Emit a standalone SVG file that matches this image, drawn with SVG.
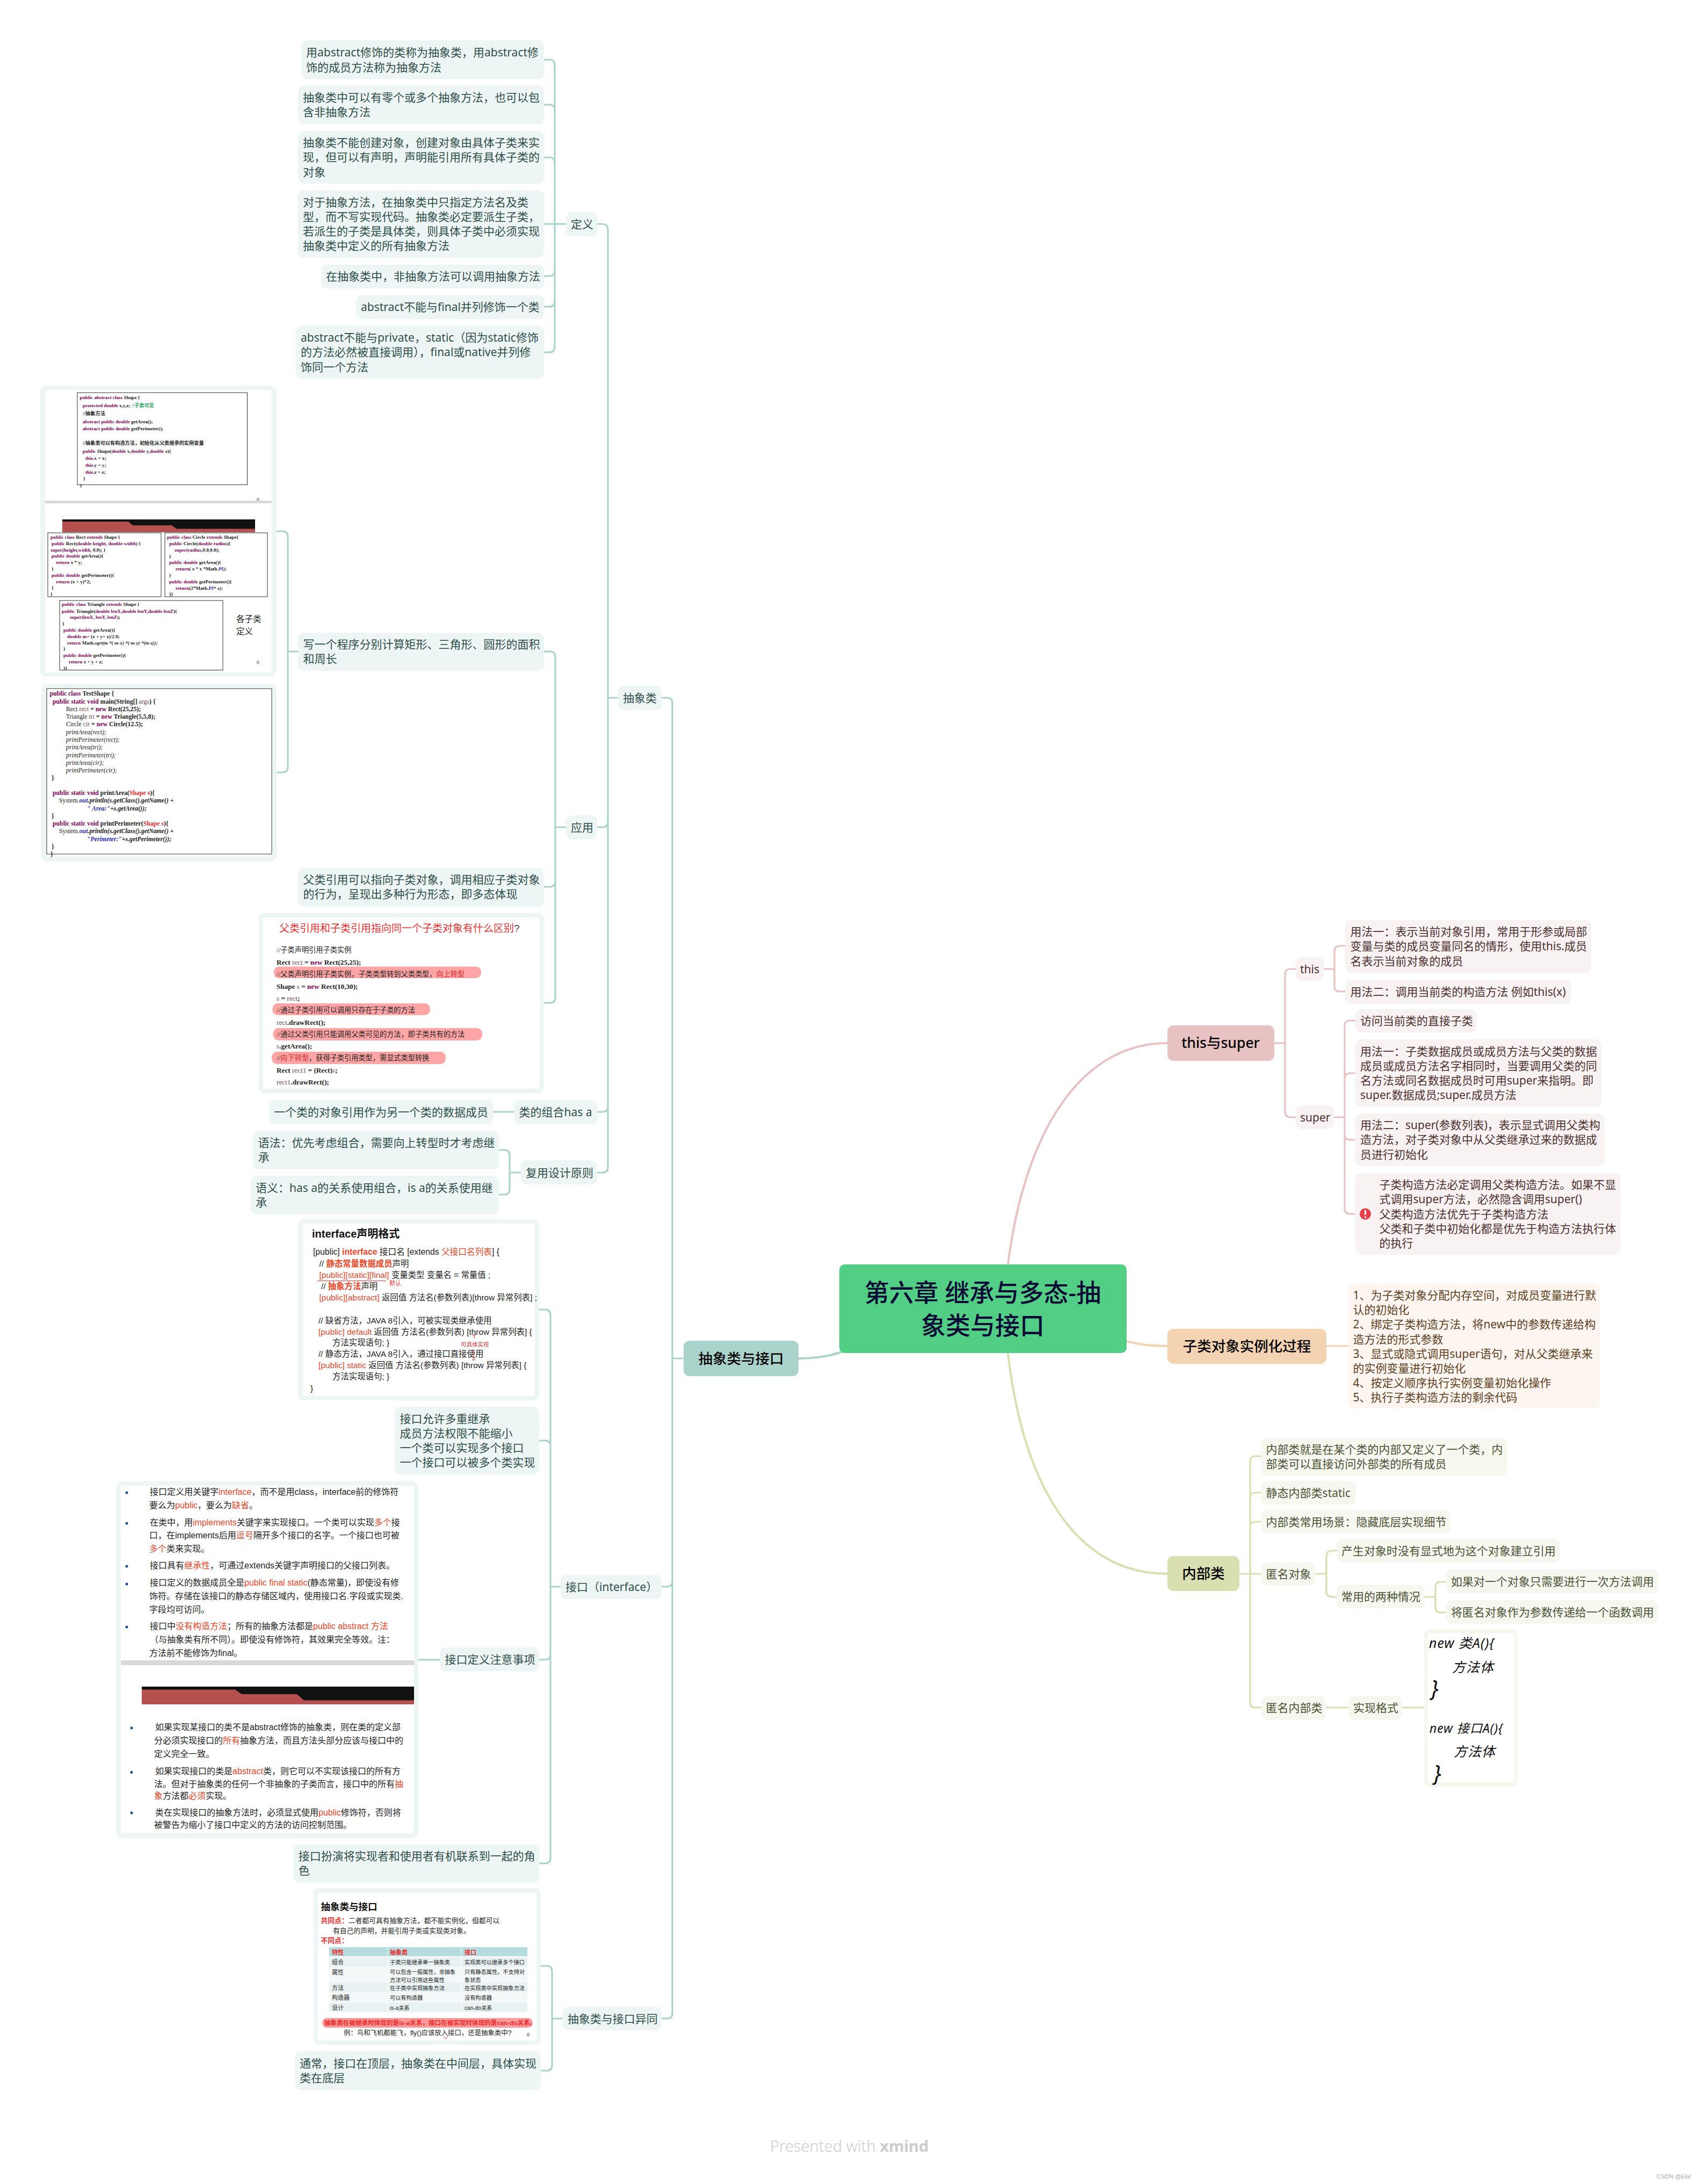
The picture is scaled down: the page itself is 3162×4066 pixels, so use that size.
<svg xmlns="http://www.w3.org/2000/svg" width="3162" height="4066" viewBox="0 0 3162 4066">
<style>
text{font-family:"Noto Sans","Noto Sans CJK SC",sans-serif;font-size:21px}
rect.tn{fill:#edf6f4}rect.pn{fill:#f8f2f2}rect.on{fill:#fdf6f0}rect.gn{fill:#f6f8f0}
.tt{fill:#2f4d49}.pt{fill:#4d3030}.ot{fill:#5e4023}.gt{fill:#4c5236}
.main{font-size:26.5px;font-weight:500;fill:#000}
.con path{fill:none;stroke-width:3.2}
.tc path{stroke:#aad4cb}.pc path{stroke:#e8c2c2}.oc path{stroke:#f4d3b2}.gc path{stroke:#d9dfb0}
.b{stroke-width:4!important}
text.c{font-family:"Liberation Serif","Noto Sans CJK SC",serif;font-weight:bold;font-size:9.2px;fill:#222}
text.c1{font-size:11.8px}
text.c2{font-size:13.2px}
.k{fill:#7f0055}.v{fill:#6d4a4a;font-weight:normal}.i{font-style:italic}.bl{fill:#2a2ac0}.r{fill:#ee2a2a}.g{fill:#1fa65a}.gg{fill:#3f7f5f}
text.s{font-family:"Liberation Sans","Noto Sans CJK SC",sans-serif;font-size:15.4px;fill:#222}
text.s2{font-size:16px}
text.s3{font-size:12.8px}
text.s4{font-size:10.2px}
.o{fill:#f0431f}
rect.box{fill:none;stroke:#333;stroke-width:1}
.h{font-style:italic;fill:#111;font-size:25px;letter-spacing:1px}
</style>
<rect width="3162" height="4066" fill="#fff"/>
<g id="connectors" class="con">
<g class="tc">
<path class="b" d="M1570,2516C1545,2525 1520,2529 1487,2529"/>
<path d="M1272,2529H1252M1232,1299H1242Q1252,1299 1252,1309V2529M1232,2954H1242Q1252,2954 1252,2944V2529M1232,3758H1242Q1252,3758 1252,3748V2529"/>
<path d="M1151,1299H1132M1112,417H1122Q1132,417 1132,427V1299M1112,1540H1122Q1132,1540 1132,1530V1299M1112,2070H1122Q1132,2070 1132,2060V1299M1112,2183H1122Q1132,2183 1132,2173V1299"/>
<path d="M1054,417H1013M1013,111H1023Q1033,111 1033,121V417M1013,195H1023Q1033,195 1033,205V417M1013,293H1023Q1033,293 1033,303V417M1013,514H1023Q1033,514 1033,504V417M1013,571H1023Q1033,571 1033,561V417M1013,656H1023Q1033,656 1033,646V417"/>
<path d="M1054,1540H1034M1013,1213H1024Q1034,1213 1034,1223V1540M1013,1651H1024Q1034,1651 1034,1641V1540M1013,1867H1024Q1034,1867 1034,1857V1540"/>
<path d="M555,1213H536M515,989H526Q536,989 536,999V1213M515,1438H526Q536,1438 536,1428V1213"/>
<path d="M918,2070H957"/>
<path d="M970,2183H949M929,2141H939Q949,2141 949,2151V2183M929,2224H939Q949,2224 949,2214V2183"/>
<path d="M1044,2954H1025M1004,2438H1015Q1025,2438 1025,2448V2954M1004,2682H1015Q1025,2682 1025,2692V2954M1004,3090H1015Q1025,3090 1025,3080V2954M1004,3469H1015Q1025,3469 1025,3459V2954"/>
<path d="M779,3090H819"/>
<path d="M1048,3758H1028M1007,3660H1018Q1028,3660 1028,3670V3758M1007,3855H1018Q1028,3855 1028,3845V3758"/>
</g>
<g class="pc">
<path class="b" d="M1877,2354C1905,2130 2000,1942 2174,1942"/>
<path d="M2373,1942H2393M2413,1804H2403Q2393,1804 2393,1814V1942M2413,2080H2403Q2393,2080 2393,2070V1942"/>
<path d="M2465,1804H2485M2505,1761H2495Q2485,1761 2485,1771V1804M2505,1846H2495Q2485,1846 2485,1836V1804"/>
<path d="M2484,2080H2504M2524,1900H2514Q2504,1900 2504,1910V2080M2524,1998H2514Q2504,1998 2504,2008V2080M2524,2122H2514Q2504,2122 2504,2112V2080M2524,2260H2514Q2504,2260 2504,2250V2080"/>
</g>
<g class="oc">
<path class="b" d="M2098,2497C2120,2503 2145,2506 2174,2506"/>
<path d="M2470,2506H2511"/>
</g>
<g class="gc">
<path class="b" d="M1877,2519C1905,2760 2000,2930 2174,2930"/>
<path d="M2308,2930H2348M2348,2711H2338Q2328,2711 2328,2721V2930M2348,2779H2338Q2328,2779 2328,2789V2930M2348,2833H2338Q2328,2833 2328,2843V2930M2349,3179H2338Q2328,3179 2328,3169V2930"/>
<path d="M2449,2930H2470M2489,2887H2480Q2470,2887 2470,2897V2930M2489,2973H2480Q2470,2973 2470,2963V2930"/>
<path d="M2653,2973H2673M2693,2945H2683Q2673,2945 2673,2955V2973M2693,3002H2683Q2673,3002 2673,2992V2973"/>
<path d="M2469,3179H2511M2611,3179H2652"/>
</g>
</g>

<g id="root"><rect x="1563" y="2354" width="535" height="165" rx="10" fill="#53ce85"/>
<text x="1830" y="2423" text-anchor="middle" style="font-size:46px;font-weight:500;fill:#0a0a36">第六章 继承与多态-抽</text>
<text x="1830" y="2484" text-anchor="middle" style="font-size:46px;font-weight:500;fill:#0a0a36">象类与接口</text></g>

<g id="b-abstract-interface"><rect x="1273" y="2496" width="214" height="66" rx="11" fill="#aad4cb"/><text class="main" x="1380" y="2539" text-anchor="middle">抽象类与接口</text></g>
<g id="b-this-super"><rect x="2174" y="1909" width="199" height="66" rx="11" fill="#e8c2c2"/><text class="main" x="2273" y="1951" text-anchor="middle">this与super</text></g>
<g id="b-instantiate"><rect x="2174" y="2474" width="296" height="65" rx="11" fill="#f4d3b2"/><text class="main" x="2322" y="2516" text-anchor="middle">子类对象实例化过程</text></g>
<g id="b-inner"><rect x="2174" y="2897" width="134" height="65" rx="11" fill="#d9dfb0"/><text class="main" x="2241" y="2939" text-anchor="middle">内部类</text></g>

<g id="n-abstract"><rect class="tn" x="1151" y="1277" width="81" height="45" rx="11"/><text class="tt" x="1160" y="1306.5">抽象类</text></g>
<g id="n-interface"><rect class="tn" x="1044" y="2932" width="188" height="45" rx="11"/><text class="tt" x="1053" y="2961.5">接口（interface）</text></g>
<g id="n-diff"><rect class="tn" x="1048" y="3736" width="184" height="44" rx="11"/><text class="tt" x="1056.7" y="3765.5">抽象类与接口异同</text></g>
<g id="n-def"><rect class="tn" x="1054" y="395" width="58" height="45" rx="11"/><text class="tt" x="1063" y="424.5">定义</text></g>
<g id="n-app"><rect class="tn" x="1054" y="1518" width="58" height="45" rx="11"/><text class="tt" x="1063" y="1547.5">应用</text></g>
<g id="n-hasa"><rect class="tn" x="957" y="2048" width="155" height="45" rx="11"/><text class="tt" x="966.5" y="2078">类的组合has a</text></g>
<g id="n-reuse"><rect class="tn" x="970" y="2160" width="142" height="45" rx="11"/><text class="tt" x="979" y="2190.5">复用设计原则</text></g>

<g id="d1"><rect class="tn" x="561" y="75" width="452" height="72" rx="11"/><text class="tt" x="570" y="105"><tspan>用abstract修饰的类称为抽象类，用abstract修</tspan><tspan x="570" dy="27.8">饰的成员方法称为抽象方法</tspan></text></g>
<g id="d2"><rect class="tn" x="555" y="159" width="458" height="72" rx="11"/><text class="tt" x="564" y="189"><tspan>抽象类中可以有零个或多个抽象方法，也可以包</tspan><tspan x="564" dy="27.3">含非抽象方法</tspan></text></g>
<g id="d3"><rect class="tn" x="555" y="244" width="458" height="98" rx="11"/><text class="tt" x="564" y="273"><tspan>抽象类不能创建对象，创建对象由具体子类来实</tspan><tspan x="564" dy="27.3">现，但可以有声明，声明能引用所有具体子类的</tspan><tspan x="564" dy="27.3">对象</tspan></text></g>
<g id="d4"><rect class="tn" x="555" y="354.5" width="458" height="125.5" rx="11"/><text class="tt" x="564" y="383.5"><tspan>对于抽象方法，在抽象类中只指定方法名及类</tspan><tspan x="564" dy="27.3">型，而不写实现代码。抽象类必定要派生子类，</tspan><tspan x="564" dy="27.3">若派生的子类是具体类，则具体子类中必须实现</tspan><tspan x="564" dy="27.3">抽象类中定义的所有抽象方法</tspan></text></g>
<g id="d5"><rect class="tn" x="598" y="493" width="415" height="44" rx="11"/><text class="tt" x="607" y="522">在抽象类中，非抽象方法可以调用抽象方法</text></g>
<g id="d6"><rect class="tn" x="663" y="549.5" width="350" height="44.5" rx="11"/><text class="tt" x="672" y="579">abstract不能与final并列修饰一个类</text></g>
<g id="d7"><rect class="tn" x="551" y="606.5" width="462" height="98.5" rx="11"/><text class="tt" x="560" y="636"><tspan>abstract不能与private，static（因为static修饰</tspan><tspan x="560" dy="27.3">的方法必然被直接调用），final或native并列修</tspan><tspan x="560" dy="27.3">饰同一个方法</tspan></text></g>

<g id="a1"><rect class="tn" x="555" y="1178" width="458" height="71" rx="11"/><text class="tt" x="564.5" y="1207"><tspan>写一个程序分别计算矩形、三角形、圆形的面积</tspan><tspan x="564.5" dy="27.3">和周长</tspan></text></g>

<g id="img-shape"><rect class="tn" x="75" y="718" width="440" height="541" rx="11"/><rect x="84" y="726" width="422" height="526" fill="#fff"/>
<rect class="box" x="144" y="731" width="316.5" height="171.5"/>
<text class="c" x="148.6" y="743"><tspan class="k">public abstract class </tspan>Shape {</text>
<text class="c" x="154" y="758"><tspan class="k">protected double </tspan>x,y,z; <tspan class="g">//子类可见</tspan></text>
<text class="c g" x="154" y="773">//抽象方法</text>
<text class="c" x="154" y="788"><tspan class="k">abstract public double </tspan>getArea();</text>
<text class="c" x="154" y="801"><tspan class="k">abstract public double </tspan>getPerimeter();</text>
<text class="c g" x="154" y="828">//抽象类可以有构造方法，初始化从父类继承的实例变量</text>
<text class="c" x="154" y="843"><tspan class="k">public </tspan>Shape(<tspan class="k">double </tspan>x,<tspan class="k">double </tspan>y,<tspan class="k">double </tspan>z){</text>
<text class="c" x="159" y="856"><tspan class="k">this</tspan>.x = x;</text>
<text class="c" x="159" y="869"><tspan class="k">this</tspan>.y = y;</text>
<text class="c" x="159" y="882"><tspan class="k">this</tspan>.z = z;</text>
<text class="c" x="155" y="894">}</text>
<text class="c" x="149" y="907">}</text>
<text class="c" x="478" y="933" style="font-weight:normal">0</text>
<rect x="84" y="932" width="422" height="5" fill="#d9d9d9"/>
<rect x="116" y="967" width="359" height="23.5" fill="#111"/>
<path d="M116,971H239L247,978H320L329,984.5H475V990.5H116Z" fill="#b5504f"/>
<rect class="box" x="89" y="992" width="211" height="119"/>
<rect class="box" x="307" y="992" width="191" height="119"/>
<rect class="box" x="111" y="1118" width="304" height="129.5"/>
<text class="c" x="94" y="1003"><tspan class="k">public class </tspan>Rect <tspan class="k">extends </tspan>Shape {</text>
<text class="c" x="96" y="1015"><tspan class="k">public </tspan>Rect(<tspan class="k">double height</tspan>, <tspan class="k">double width</tspan>) {</text>
<text class="c" x="94" y="1027"><tspan class="k">super(height,width, </tspan>0.0); }</text>
<text class="c" x="96" y="1038"><tspan class="k">public double </tspan>getArea(){</text>
<text class="c" x="104" y="1050"><tspan class="k">return </tspan>x * y;</text>
<text class="c" x="96" y="1062">}</text>
<text class="c" x="96" y="1074"><tspan class="k">public double </tspan>getPerimeter(){</text>
<text class="c" x="104" y="1086"><tspan class="k">return </tspan>(x + y)*2;</text>
<text class="c" x="96" y="1097">}</text>
<text class="c" x="94" y="1109">}</text>
<text class="c" x="311" y="1003"><tspan class="k">public class </tspan>Circle <tspan class="k">extends </tspan>Shape{</text>
<text class="c" x="315" y="1015"><tspan class="k">public </tspan>Circle(<tspan class="k">double radius</tspan>){</text>
<text class="c" x="325" y="1027"><tspan class="k">super(radius,</tspan>0.0,0.0);</text>
<text class="c" x="315" y="1039">}</text>
<text class="c" x="315" y="1050"><tspan class="k">public double </tspan>getArea(){</text>
<text class="c" x="327" y="1062"><tspan class="k">return</tspan>( x * x *Math.<tspan class="bl i">PI</tspan><tspan class="i">);</tspan></text>
<text class="c" x="315" y="1074">}</text>
<text class="c" x="315" y="1086"><tspan class="k">public double </tspan>getPerimeter(){</text>
<text class="c" x="327" y="1098"><tspan class="k">return</tspan>(2*Math.<tspan class="bl i">PI</tspan><tspan class="i">* x);</tspan></text>
<text class="c" x="315" y="1109">}}</text>
<text class="c" x="115" y="1128"><tspan class="k">public class </tspan>Triangle <tspan class="k">extends </tspan>Shape {</text>
<text class="c" x="115" y="1141"><tspan class="k">public </tspan>Triangle(<tspan class="k">double lenX,double lenY,double lenZ</tspan>){</text>
<text class="c" x="130" y="1152"><tspan class="k">super(lenX, lenY, lenZ</tspan>);</text>
<text class="c" x="116" y="1164">}</text>
<text class="c" x="118" y="1176"><tspan class="k">public double </tspan>getArea(){</text>
<text class="c" x="125" y="1188"><tspan class="k">double m= </tspan>(x + y+ z)/2.0;</text>
<text class="c" x="125" y="1200"><tspan class="k">return </tspan>Math.<tspan class="i">sqrt(m *( m-x) *( m-y) *(m-z));</tspan></text>
<text class="c" x="118" y="1211">}</text>
<text class="c" x="118" y="1223"><tspan class="k">public double </tspan>getPerimeter(){</text>
<text class="c" x="128" y="1235"><tspan class="k">return </tspan>x + y + z;</text>
<text class="c" x="118" y="1247">}}</text>
<text x="440" y="1158" style="font-size:15.5px;fill:#222">各子类</text>
<text x="440" y="1181" style="font-size:15.5px;fill:#222">定义</text>
<text class="c" x="478" y="1236" style="font-weight:normal">0</text></g>

<g id="img-test"><rect class="tn" x="77" y="1273" width="438" height="331" rx="11"/><rect x="87" y="1281" width="419" height="314" fill="#fff"/>
<rect class="box" x="87" y="1282" width="419" height="308"/>
<text class="c c1" x="92.7" y="1295"><tspan class="k">public class </tspan>TestShape {</text>
<text class="c c1" x="98" y="1310"><tspan class="k">public static void </tspan>main(String[] <tspan class="v">args</tspan>) {</text>
<text class="c c1" x="123" y="1324"><tspan style="font-weight:normal">Rect </tspan><tspan class="v">rect </tspan>= <tspan class="k">new </tspan>Rect(25,25);</text>
<text class="c c1" x="123" y="1338"><tspan style="font-weight:normal">Triangle </tspan><tspan class="v">tri </tspan>= <tspan class="k">new </tspan>Triangle(5,5,8);</text>
<text class="c c1" x="123" y="1352"><tspan style="font-weight:normal">Circle </tspan><tspan class="v">cir </tspan>= <tspan class="k">new </tspan>Circle(12.5);</text>
<text class="c c1 i" x="123" y="1366.5" style="font-weight:normal">printArea(rect);</text>
<text class="c c1 i" x="123" y="1381" style="font-weight:normal">printPerimeter(rect);</text>
<text class="c c1 i" x="123" y="1395" style="font-weight:normal">printArea(tri);</text>
<text class="c c1 i" x="123" y="1409.5" style="font-weight:normal">printPerimeter(tri);</text>
<text class="c c1 i" x="123" y="1423.5" style="font-weight:normal">printArea(cir);</text>
<text class="c c1 i" x="123" y="1438" style="font-weight:normal">printPerimeter(cir);</text>
<text class="c c1" x="96" y="1452">}</text>
<text class="c c1" x="98" y="1480"><tspan class="k">public static void </tspan>printArea(<tspan class="r">Shape s</tspan>){</text>
<text class="c c1" x="110" y="1494"><tspan style="font-weight:normal">System.</tspan><tspan class="bl i">out</tspan><tspan class="i">.println(s.getClass().getName() +</tspan></text>
<text class="c c1 i" x="162" y="1509"><tspan class="bl">" Area:"</tspan>+s.getArea());</text>
<text class="c c1" x="96" y="1522.5">}</text>
<text class="c c1" x="98" y="1537"><tspan class="k">public static void </tspan>printPerimeter(<tspan class="r">Shape s</tspan>){</text>
<text class="c c1" x="110" y="1551"><tspan style="font-weight:normal">System.</tspan><tspan class="bl i">out</tspan><tspan class="i">.println(s.getClass().getName() +</tspan></text>
<text class="c c1 i" x="162" y="1565.5"><tspan class="bl">"Perimeter:"</tspan>+s.getPerimeter());</text>
<text class="c c1" x="96" y="1580">}</text>
<text class="c c1" x="94" y="1594">}</text></g>

<g id="a2"><rect class="tn" x="555" y="1616" width="458" height="72" rx="11"/><text class="tt" x="564.5" y="1645"><tspan>父类引用可以指向子类对象，调用相应子类对象</tspan><tspan x="564.5" dy="27.3">的行为，呈现出多种行为形态，即多态体现</tspan></text></g>

<g id="img-ref"><rect class="tn" x="482" y="1700" width="531" height="335.5" rx="11"/><rect x="490" y="1708" width="515" height="318.5" fill="#fff"/>
<text x="520" y="1735" style="font-size:19px;fill:#f03030">父类引用和子类引用指向同一个子类对象有什么区别<tspan style="fill:#444;font-family:'Liberation Sans'">?</tspan></text>
<rect x="510" y="1799.6" width="386" height="21.5" rx="10" fill="#ffa5a5"/>
<rect x="507.4" y="1868" width="293.6" height="22" rx="10" fill="#ffa5a5"/>
<rect x="508.5" y="1914" width="389.5" height="23" rx="10" fill="#ffa5a5"/>
<rect x="506" y="1958" width="324" height="23" rx="10" fill="#ffa5a5"/>
<text class="c c2 gg" x="515" y="1773" style="font-weight:normal">//子类声明引用子类实例</text>
<text class="c c2" x="515" y="1796">Rect <tspan class="v">rect </tspan>= <tspan class="k">new </tspan>Rect(25,25);</text>
<text class="c c2 gg" x="515" y="1817.5" style="font-weight:normal">//父类声明引用子类实例，子类类型转到父类类型，<tspan class="r">向上转型</tspan></text>
<text class="c c2" x="515" y="1841">Shape <tspan class="v">s </tspan>= <tspan class="k">new </tspan>Rect(10,30);</text>
<text class="c c2" x="515" y="1862.5"><tspan class="v">s </tspan>= <tspan class="v">rect</tspan>;</text>
<text class="c c2 gg" x="515" y="1885" style="font-weight:normal">//通过子类引用可以调用只存在于子类的方法</text>
<text class="c c2" x="515" y="1907.5"><tspan class="v">rect</tspan>.drawRect();</text>
<text class="c c2 gg" x="515" y="1930" style="font-weight:normal">//通过父类引用只能调用父类可见的方法，即子类共有的方法</text>
<text class="c c2" x="515" y="1951.5"><tspan class="v">s</tspan>.getArea();</text>
<text class="c c2 gg" x="515" y="1974" style="font-weight:normal">//<tspan class="r">向下转型</tspan>，获得子类引用类型，需显式类型转换</text>
<text class="c c2" x="515" y="1996.5">Rect <tspan class="v">rect1 </tspan>= (Rect)<tspan class="v">s</tspan>;</text>
<text class="c c2" x="515" y="2018.5"><tspan class="v">rect1</tspan>.drawRect();</text></g>

<g id="h1"><rect class="tn" x="501" y="2048" width="417" height="45" rx="11"/><text class="tt" x="510" y="2078">一个类的对象引用作为另一个类的数据成员</text></g>
<g id="r1"><rect class="tn" x="471" y="2105" width="458" height="72" rx="11"/><text class="tt" x="480.4" y="2135"><tspan>语法：优先考虑组合，需要向上转型时才考虑继</tspan><tspan x="480.4" dy="27.3">承</tspan></text></g>
<g id="r2"><rect class="tn" x="467" y="2189" width="462" height="72" rx="11"/><text class="tt" x="476" y="2219"><tspan>语义：has a的关系使用组合，is a的关系使用继</tspan><tspan x="476" dy="27.3">承</tspan></text></g>

<g id="img-decl"><rect class="tn" x="555" y="2270" width="449" height="337" rx="11"/><rect x="564" y="2278" width="432" height="321" fill="#fff"/>
<text x="581" y="2304" style="font-family:'Liberation Sans','Noto Sans CJK SC',sans-serif;font-size:20px;font-weight:bold;fill:#111">interface声明格式</text>
<text class="s" x="583" y="2335.5" style="font-size:15.7px">[public] <tspan class="o" style="font-weight:bold">interface</tspan> 接口名 [extends <tspan class="o">父接口名列表</tspan>] {</text>
<text class="s" x="594.6" y="2357.5">// <tspan class="o" style="font-weight:bold">静态常量数据成员</tspan>声明</text>
<text class="s" x="594.6" y="2378.5"><tspan class="o">[public][static][final]</tspan> 变量类型 变量名 = 常量值 ;</text>
<path d="M591,2384.5H719" stroke="#e33" stroke-width="1.2" fill="none"/>
<text x="725" y="2393" style="font-size:11px;fill:#e33">默认</text>
<text class="s" x="598" y="2399.5">// <tspan class="o" style="font-weight:bold">抽象方法</tspan>声明</text>
<text class="s" x="594.6" y="2420.5"><tspan class="o">[public][abstract]</tspan> 返回值 方法名(参数列表)[throw 异常列表] ;</text>
<text class="s" x="593" y="2463.5">// 缺省方法，JAVA 8引入，可被实现类继承使用</text>
<text class="s" x="593" y="2484.5"><tspan class="o">[public] default</tspan> 返回值 方法名(参数列表) [throw 异常列表] {</text>
<text class="s" x="619" y="2504.5">方法实现语句; }</text>
<text class="s" x="593" y="2525.5">// 静态方法，JAVA 8引入，通过接口直接使用</text>
<text class="s" x="593" y="2546.5"><tspan class="o">[public] static</tspan> 返回值 方法名(参数列表) [throw 异常列表] {</text>
<text class="s" x="619" y="2567.5">方法实现语句; }</text>
<text class="s" x="578" y="2590">}</text>
<text x="858" y="2507" style="font-size:10.5px;fill:#d33">可具体实现</text>
<path d="M883,2492V2484M880.5,2487L883,2484 885.5,2487M882,2512V2533M879.5,2530L882,2533 884.5,2530" stroke="#d33" stroke-width="1" fill="none"/></g>

<g id="i1"><rect class="tn" x="735" y="2619" width="269" height="126" rx="11"/><text class="tt" x="744.6" y="2648.5"><tspan>接口允许多重继承</tspan><tspan x="744.6" dy="27.3">成员方法权限不能缩小</tspan><tspan x="744.6" dy="27.3">一个类可以实现多个接口</tspan><tspan x="744.6" dy="27.3">一个接口可以被多个类实现</tspan></text></g>

<g id="img-notes"><rect class="tn" x="216.5" y="2758" width="562" height="664" rx="11"/><rect x="225" y="2766" width="546" height="647" fill="#fff"/>
<g fill="#1a4a8a"><circle cx="236" cy="2779" r="2.5"/><circle cx="236" cy="2836" r="2.5"/><circle cx="236" cy="2916" r="2.5"/><circle cx="236" cy="2949" r="2.5"/><circle cx="236" cy="3029" r="2.5"/><circle cx="245" cy="3217" r="2.5"/><circle cx="245" cy="3299.5" r="2.5"/><circle cx="245" cy="3375" r="2.5"/></g>
<text class="s s2" x="279" y="2783">接口定义用关键字<tspan class="o">interface</tspan>，而不是用class，interface前的修饰符</text>
<text class="s s2" x="278" y="2808">要么为<tspan class="o">public</tspan>，要么为<tspan class="o">缺省</tspan>。</text>
<text class="s s2" x="279" y="2840">在类中，用<tspan class="o">implements</tspan>关键字来实现接口。一个类可以实现<tspan class="o">多个</tspan>接</text>
<text class="s s2" x="278" y="2864">口，在implements后用<tspan class="o">逗号</tspan>隔开多个接口的名字。一个接口也可被</text>
<text class="s s2" x="278" y="2889"><tspan class="o">多个</tspan>类来实现。</text>
<text class="s s2" x="279" y="2920">接口具有<tspan class="o">继承性</tspan>，可通过extends关键字声明接口的父接口列表。</text>
<text class="s s2" x="279" y="2952">接口定义的数据成员全是<tspan class="o">public final static</tspan>(静态常量)，即使没有修</text>
<text class="s s2" x="278" y="2977">饰符。存储在该接口的静态存储区域内，使用接口名.字段或实现类.</text>
<text class="s s2" x="278" y="3002">字段均可访问。</text>
<text class="s s2" x="279" y="3033">接口中<tspan class="o">没有构造方法</tspan>；所有的抽象方法都是<tspan class="o">public abstract 方法</tspan></text>
<text class="s s2" x="279" y="3058">（与抽象类有所不同）。即使没有修饰符，其效果完全等效。注：</text>
<text class="s s2" x="278" y="3083">方法前不能修饰为final。</text>
<rect x="225" y="3091" width="546" height="9" fill="#d9d9d9"/>
<rect x="264" y="3140" width="507" height="33" fill="#111"/>
<path d="M264,3145.5H438L450,3154H553L566,3165.5H771V3173H264Z" fill="#b5504f"/>
<text class="s s2" x="289" y="3221">如果实现某接口的类不是abstract修饰的抽象类，则在类的定义部</text>
<text class="s s2" x="287" y="3246">分必须实现接口的<tspan class="o">所有</tspan>抽象方法，而且方法头部分应该与接口中的</text>
<text class="s s2" x="287" y="3270.5">定义完全一致。</text>
<text class="s s2" x="289" y="3303">如果实现接口的类是<tspan class="o">abstract</tspan>类，则它可以不实现该接口的所有方</text>
<text class="s s2" x="287" y="3327">法。但对于抽象类的任何一个非抽象的子类而言，接口中的所有<tspan class="o">抽</tspan></text>
<text class="s s2" x="287" y="3349"><tspan class="o">象</tspan>方法都<tspan class="o">必须</tspan>实现。</text>
<text class="s s2" x="289" y="3379.5">类在实现接口的抽象方法时，必须显式使用<tspan class="o">public</tspan>修饰符，否则将</text>
<text class="s s2" x="287" y="3403">被警告为缩小了接口中定义的方法的访问控制范围。</text></g>

<g id="i2"><rect class="tn" x="819" y="3067" width="185" height="44.5" rx="11"/><text class="tt" x="828.6" y="3097">接口定义注意事项</text></g>
<g id="i3"><rect class="tn" x="546.5" y="3434" width="458" height="71" rx="11"/><text class="tt" x="555.7" y="3463"><tspan>接口扮演将实现者和使用者有机联系到一起的角</tspan><tspan x="555.7" dy="27.3">色</tspan></text></g>

<g id="img-compare"><rect class="tn" x="584" y="3515" width="423" height="292" rx="11"/><rect x="592" y="3523" width="407" height="276" fill="#fff"/>
<text x="597.5" y="3556" style="font-family:'Liberation Sans','Noto Sans CJK SC',sans-serif;font-size:17.5px;font-weight:bold;fill:#111">抽象类与接口</text>
<text class="s s3" x="597.5" y="3580"><tspan class="r" style="font-weight:bold">共同点：</tspan>二者都可具有抽象方法，都不能实例化，但都可以</text>
<text class="s s3" x="620" y="3599">有自己的声明，并能引用子类或实现类对象。</text>
<text class="s s3 r" x="597.5" y="3617" style="font-weight:bold;fill:#ee2a2a">不同点：</text>
<rect x="613" y="3625" width="369" height="17" fill="#b5dde0"/>
<rect x="613" y="3644" width="369" height="18" fill="#e9f2f3"/>
<rect x="613" y="3662" width="369" height="29" fill="#f4f8f9"/>
<rect x="613" y="3691" width="369" height="18" fill="#e9f2f3"/>
<rect x="613" y="3709" width="369" height="18" fill="#f4f8f9"/>
<rect x="613" y="3728" width="369" height="18" fill="#e9f2f3"/>
<path d="M721.5,3625V3746M859,3625V3746" stroke="#fff" stroke-width="1" fill="none"/>
<text class="s s4" x="618" y="3639" style="font-weight:bold;font-size:11px;fill:#ee2a2a">特性</text><text class="s s4" x="726" y="3639" style="font-weight:bold;font-size:11px;fill:#ee2a2a">抽象类</text><text class="s s4" x="865" y="3639" style="font-weight:bold;font-size:11px;fill:#ee2a2a">接口</text>
<text class="s s4" x="618" y="3657" style="font-size:11px">组合</text><text class="s s4" x="726" y="3657">子类只能继承单一抽象类</text><text class="s s4" x="865" y="3657">实现类可以继承多个接口</text>
<text class="s s4" x="618" y="3676" style="font-size:11px">属性</text><text class="s s4" x="726" y="3675">可以包含一般属性，非抽象</text><text class="s s4" x="865" y="3675">只有静态属性，不支持对</text>
<text class="s s4" x="726" y="3690">方法可以引用这些属性</text><text class="s s4" x="865" y="3690">象状态</text>
<text class="s s4" x="618" y="3705" style="font-size:11px">方法</text><text class="s s4" x="726" y="3704.5">在子类中实现抽象方法</text><text class="s s4" x="865" y="3704.5">在实现类中实现抽象方法</text>
<text class="s s4" x="618" y="3723" style="font-size:11px">构造器</text><text class="s s4" x="726" y="3723">可以有构造器</text><text class="s s4" x="865" y="3723">没有构造器</text>
<text class="s s4" x="618" y="3742" style="font-size:11px">设计</text><text class="s s4" x="726" y="3741.5">is-a关系</text><text class="s s4" x="865" y="3741.5">can-do关系</text>
<rect x="600" y="3757" width="392" height="18" rx="9" fill="#ff9a9a"/>
<text class="s" x="604" y="3770" style="font-size:11.6px;font-weight:bold;fill:#ee2a2a">抽象类在被继承时体现的是is-a关系，接口在被实现时体现的是can-do关系。</text>
<text class="s" x="640" y="3788.5" style="font-size:12.4px">例：鸟和飞机都能飞，fly()应该放入接口，还是抽象类中?</text>
<text class="s" x="981" y="3791" style="font-size:9px">0</text>
<path d="M826,3791L830,3796 834,3790" stroke="#e33" stroke-width="1" fill="none"/></g>

<g id="c2"><rect class="tn" x="549.5" y="3819" width="457.5" height="72" rx="11"/><text class="tt" x="558" y="3849"><tspan>通常，接口在顶层，抽象类在中间层，具体实现</tspan><tspan x="558" dy="27.3">类在底层</tspan></text></g>

<g id="n-this"><rect class="pn" x="2413" y="1782" width="52" height="44" rx="11"/><text class="pt" x="2421" y="1811.5">this</text></g>
<g id="n-super"><rect class="pn" x="2413" y="2058" width="71" height="44" rx="11"/><text class="pt" x="2421" y="2087.5">super</text></g>
<g id="t1"><rect class="pn" x="2505" y="1713" width="458" height="98" rx="11"/><text class="pt" x="2514.5" y="1742"><tspan>用法一：表示当前对象引用，常用于形参或局部</tspan><tspan x="2514.5" dy="27.3">变量与类的成员变量同名的情形，使用this.成员</tspan><tspan x="2514.5" dy="27.3">名表示当前对象的成员</tspan></text></g>
<g id="t2"><rect class="pn" x="2505" y="1824" width="421" height="45" rx="11"/><text class="pt" x="2514.5" y="1854">用法二：调用当前类的构造方法 例如this(x)</text></g>
<g id="s1"><rect class="pn" x="2524" y="1879" width="226" height="43" rx="11"/><text class="pt" x="2533" y="1908">访问当前类的直接子类</text></g>
<g id="s2"><rect class="pn" x="2524" y="1935" width="458" height="126" rx="11"/><text class="pt" x="2533" y="1964.5"><tspan>用法一：子类数据成员或成员方法与父类的数据</tspan><tspan x="2533" dy="27.3">成员或成员方法名字相同时，当要调用父类的同</tspan><tspan x="2533" dy="27.3">名方法或同名数据成员时可用super来指明。即</tspan><tspan x="2533" dy="27.3">super.数据成员;super.成员方法</tspan></text></g>
<g id="s3"><rect class="pn" x="2524" y="2073" width="464" height="98" rx="11"/><text class="pt" x="2533" y="2102"><tspan>用法二：super(参数列表)，表示显式调用父类构</tspan><tspan x="2533" dy="27.3">造方法，对子类对象中从父类继承过来的数据成</tspan><tspan x="2533" dy="27.3">员进行初始化</tspan></text></g>
<g id="s4"><rect class="pn" x="2524" y="2184" width="494" height="152" rx="11"/>
<circle cx="2542.5" cy="2260" r="10.5" fill="#e8404a"/><rect x="2541" y="2253" width="3" height="9" rx="1.2" fill="#fff"/><circle cx="2542.5" cy="2266" r="1.7" fill="#fff"/>
<text class="pt" x="2568.5" y="2213"><tspan>子类构造方法必定调用父类构造方法。如果不显</tspan><tspan x="2568.5" dy="27.3">式调用super方法，必然隐含调用super()</tspan><tspan x="2568.5" dy="27.3">父类构造方法优先于子类构造方法</tspan><tspan x="2568.5" dy="27.3">父类和子类中初始化都是优先于构造方法执行体</tspan><tspan x="2568.5" dy="27.3">的执行</tspan></text></g>

<g id="o1"><rect class="on" x="2511" y="2389.5" width="468" height="232.5" rx="11"/><text class="ot" x="2519.5" y="2419"><tspan>1、为子类对象分配内存空间，对成员变量进行默</tspan><tspan x="2519.5" dy="27.2">认的初始化</tspan><tspan x="2519.5" dy="27.2">2、绑定子类构造方法，将new中的参数传递给构</tspan><tspan x="2519.5" dy="27.2">造方法的形式参数</tspan><tspan x="2519.5" dy="27.2">3、显式或隐式调用super语句，对从父类继承来</tspan><tspan x="2519.5" dy="27.2">的实例变量进行初始化</tspan><tspan x="2519.5" dy="27.2">4、按定义顺序执行实例变量初始化操作</tspan><tspan x="2519.5" dy="27.2">5、执行子类构造方法的剩余代码</tspan></text></g>

<g id="g1"><rect class="gn" x="2348" y="2676.5" width="458" height="70.5" rx="11"/><text class="gt" x="2357.6" y="2705.5"><tspan>内部类就是在某个类的内部又定义了一个类，内</tspan><tspan x="2357.6" dy="27.3">部类可以直接访问外部类的所有成员</tspan></text></g>
<g id="g2"><rect class="gn" x="2348" y="2757" width="177" height="44" rx="11"/><text class="gt" x="2357.6" y="2786.5">静态内部类static</text></g>
<g id="g3"><rect class="gn" x="2348" y="2811" width="352.6" height="44" rx="11"/><text class="gt" x="2357.6" y="2840.5">内部类常用场景：隐藏底层实现细节</text></g>
<g id="g4"><rect class="gn" x="2348" y="2908" width="101" height="44" rx="11"/><text class="gt" x="2357.6" y="2937.5">匿名对象</text></g>
<g id="g5"><rect class="gn" x="2489" y="2865" width="416" height="44" rx="11"/><text class="gt" x="2498" y="2894.5">产生对象时没有显式地为这个对象建立引用</text></g>
<g id="g6"><rect class="gn" x="2489" y="2950.6" width="164" height="43.4" rx="11"/><text class="gt" x="2498" y="2980">常用的两种情况</text></g>
<g id="g7"><rect class="gn" x="2693" y="2922" width="395" height="44" rx="11"/><text class="gt" x="2702" y="2952">如果对一个对象只需要进行一次方法调用</text></g>
<g id="g8"><rect class="gn" x="2693" y="2979" width="395" height="44" rx="11"/><text class="gt" x="2702" y="3009">将匿名对象作为参数传递给一个函数调用</text></g>
<g id="g9"><rect class="gn" x="2349" y="3157" width="120" height="45" rx="11"/><text class="gt" x="2357.5" y="3186.5">匿名内部类</text></g>
<g id="g10"><rect class="gn" x="2511" y="3157" width="100" height="45" rx="11"/><text class="gt" x="2520" y="3186.5">实现格式</text></g>
<g id="img-hand"><rect class="gn" x="2652" y="3033" width="174" height="294" rx="11"/><rect x="2659" y="3041" width="160" height="277" fill="#fff"/>
<text class="h" x="2661" y="3068">new 类A(){</text><text class="h" x="2704" y="3113">方法体</text><text class="h" x="2664" y="3158" style="font-size:42px">}</text>
<text class="h" x="2662" y="3226" style="font-size:23px">new 接口A(){</text><text class="h" x="2707" y="3270">方法体</text><text class="h" x="2669" y="3316" style="font-size:42px">}</text></g>

<g id="footer"><text x="1434" y="4006" style="font-size:29px;fill:#ccc;font-weight:300">Presented with <tspan style="font-weight:700">xmind</tspan></text>
<text x="3085" y="4056" style="font-size:11px;fill:#aaa;font-family:'Liberation Sans',sans-serif">CSDN @Ela!</text></g>
</svg>
